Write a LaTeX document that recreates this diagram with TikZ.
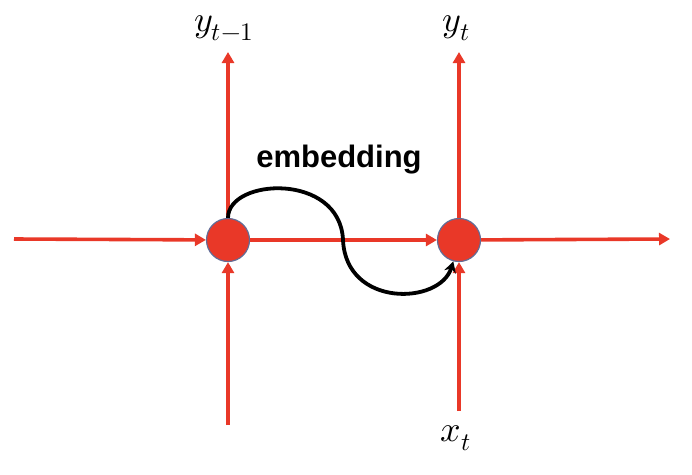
\documentclass[tikz,border=0pt]{standalone}
\usepackage{fontspec}
\usepackage{unicode-math}
\setmathfont{Latin Modern Math}
\setsansfont{Liberation Sans}
\usetikzlibrary{arrows.meta}
\definecolor{rnnred}{RGB}{233,56,40}
\definecolor{rnnrim}{RGB}{98,108,150}
\begin{document}
\begin{tikzpicture}[x=1pt,y=-1pt,line width=3.6pt,
		flow/.style={rnnred,-{Triangle[width=12pt,length=11pt]}},
		unit/.style={circle,fill=rnnred,draw=rnnrim,line width=1.2pt,minimum size=43pt,inner sep=0pt},
		lbl/.style={font=\fontsize{36}{40}\selectfont}]
				\useasboundingbox (0,0) rectangle (692,474);
				\node[unit] (H) at (228,240) {};\node[unit] (G) at (459,240) {};
				\coordinate (L) at (14,239);\coordinate (R) at (670,239);
				\coordinate (P) at (228,425);\coordinate (X) at (459,411);
				\coordinate (U) at (228,52);\coordinate (V) at (459,52);
				\draw[flow] (L)--(H);\draw[flow] (H)--(G);\draw[flow] (G)--(R);
				\draw[flow] (P)--(H);\draw[flow] (X)--(G);
				\draw[flow] (H)--(U);\draw[flow] (G)--(V);
				\draw[line width=3.8pt,-{Stealth[width=12pt,length=11pt]}] (H.north) .. controls (228,178) and (340,172) .. (343,240)
					.. controls (346,308) and (440,305) .. (G.255);
				\node[lbl] (yp) at (224,28) {$y_{t-1}$};
				\node[lbl] (yc) at (456,28) {$y_t$};
				\node[lbl] (xc) at (456,438) {$x_t$};
				\node[font=\sffamily\bfseries\fontsize{31}{36}\selectfont] (emb) at (339,160) {embedding};
			\end{tikzpicture}
\end{document}
